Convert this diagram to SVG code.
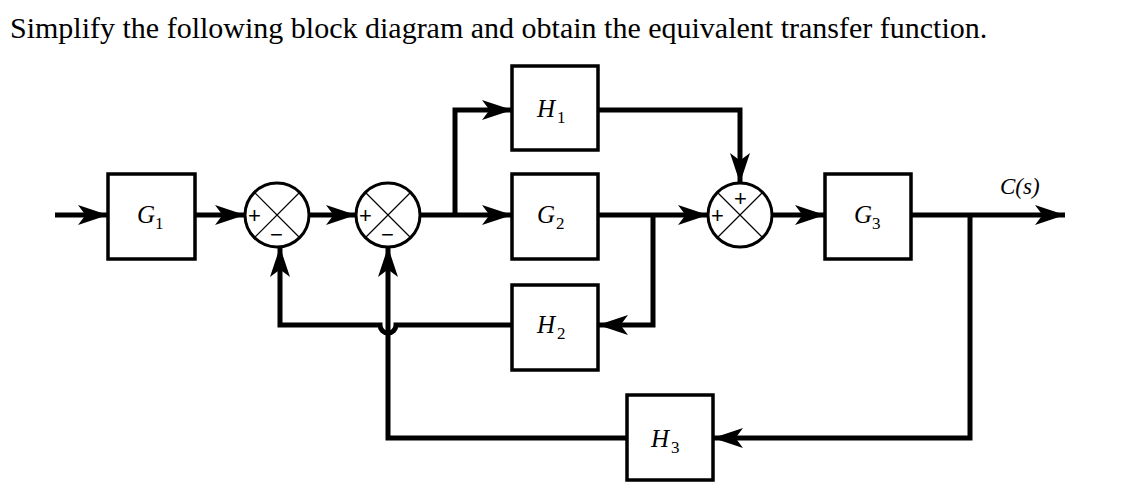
<svg xmlns="http://www.w3.org/2000/svg" width="1123" height="502" viewBox="0 0 1123 502">
<defs>
<marker id="a" viewBox="0 0 12 8" refX="12" refY="4" markerWidth="6" markerHeight="4" markerUnits="strokeWidth" orient="auto"><path d="M0,0 L12,4 L0,8 L3,4 Z" fill="#000"/></marker>
</defs>
<style>
.box{fill:#fff;stroke:#000;stroke-width:3.5}
.sum{fill:#fff;stroke:#000;stroke-width:3}
.x{stroke:#000;stroke-width:1.2}
.w{fill:none;stroke:#000;stroke-width:5}
.lbl{font-family:"Liberation Serif",serif;font-style:italic;font-size:25px}
.sub{font-family:"Liberation Serif",serif;font-size:17px}
.sg{font-family:"Liberation Sans",sans-serif;font-size:22px}
</style>
<rect width="1123" height="502" fill="#fff"/>
<text x="10" y="38" font-family="Liberation Serif,serif" font-size="30">Simplify the following block diagram and obtain the equivalent transfer function.</text>
<g id="connectors">
<path class="w" d="M55,215 H108" marker-end="url(#a)"/>
<path class="w" d="M195,215 H245" marker-end="url(#a)"/>
<path class="w" d="M309,215 H356" marker-end="url(#a)"/>
<path class="w" d="M420,215 H512" marker-end="url(#a)"/>
<path class="w" d="M455,215 V110 H512" marker-end="url(#a)"/>
<path class="w" d="M598,110 H740 V183" marker-end="url(#a)"/>
<path class="w" d="M598,215 H708" marker-end="url(#a)"/>
<path class="w" d="M653,215 V325 H598" marker-end="url(#a)"/>
<path class="w" d="M772,215 H825" marker-end="url(#a)"/>
<path class="w" d="M911,215 H1065" marker-end="url(#a)"/>
<path class="w" d="M970,215 V438 H713" marker-end="url(#a)"/>
<path class="w" d="M627,438 H388 V247" marker-end="url(#a)"/>
<path class="w" d="M512,325 H396 A8,8 0 0 1 380,325 H280 V247" marker-end="url(#a)"/>
</g>
<g id="G1"><rect class="box" x="108" y="174" width="87" height="85"/><text class="lbl" x="137" y="223">G</text><text class="sub" x="155" y="229">1</text></g>
<g id="H1"><rect class="box" x="512" y="66" width="86" height="84"/><text class="lbl" x="537" y="117">H</text><text class="sub" x="557" y="123">1</text></g>
<g id="G2"><rect class="box" x="512" y="174" width="86" height="85"/><text class="lbl" x="537" y="223">G</text><text class="sub" x="556" y="229">2</text></g>
<g id="H2"><rect class="box" x="512" y="285" width="86" height="85"/><text class="lbl" x="537" y="333">H</text><text class="sub" x="557" y="339">2</text></g>
<g id="G3"><rect class="box" x="825" y="174" width="86" height="85"/><text class="lbl" x="854" y="223">G</text><text class="sub" x="872" y="229">3</text></g>
<g id="H3"><rect class="box" x="627" y="395" width="86" height="85"/><text class="lbl" x="651" y="447">H</text><text class="sub" x="671" y="453">3</text></g>
<g id="S1"><circle class="sum" cx="277" cy="215" r="32"/><path class="x" d="M254,192 L300,238 M300,192 L254,238"/><text class="sg" x="248" y="223">+</text><text class="sg" x="270" y="242">−</text></g>
<g id="S2"><circle class="sum" cx="388" cy="215" r="32"/><path class="x" d="M365,192 L411,238 M411,192 L365,238"/><text class="sg" x="359" y="223">+</text><text class="sg" x="381" y="242">−</text></g>
<g id="S3"><circle class="sum" cx="740" cy="215" r="32"/><path class="x" d="M717,192 L763,238 M763,192 L717,238"/><text class="sg" x="711" y="223">+</text><text class="sg" x="734" y="206">+</text></g>
<text x="1000" y="194" font-family="Liberation Serif,serif" font-style="italic" font-size="23">C(s)</text>
</svg>
